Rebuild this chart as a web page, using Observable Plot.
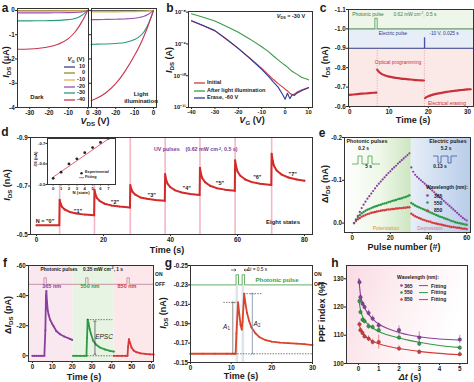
<!DOCTYPE html>
<html><head><meta charset="utf-8">
<script src="https://cdn.jsdelivr.net/npm/d3@7"></script>
<script src="https://cdn.jsdelivr.net/npm/@observablehq/plot@0.6"></script>
<style>
body{margin:0;background:#fff;}
#root{position:relative;width:474px;height:382px;overflow:hidden;font-family:"Liberation Sans",Arial,sans-serif;background:#fff;}
.t{position:absolute;white-space:nowrap;line-height:1;}
.sb{font-size:0.68em;vertical-align:-0.3em;}
.sp{font-size:0.68em;vertical-align:0.4em;}
</style></head><body><div id="root"></div><script>
// ---------------- DATA ----------------
// (a) output curves
const aVg = ["10", "0", "-10", "-20", "-30", "-40"];
const aVdsDark = [-36,-30,-25,-20,-15,-10,-7,-5,-3,-2,-1,0];
const aVdsLight = [-33,-30,-25,-20,-15,-10,-7,-5,-3,-2,-1,0];
const aDarkP10 = [-0.003,-0.003,-0.003,-0.003,-0.003,-0.003,-0.002,-0.002,-0.001,-0.001,0,0];
const aDark0 = [-0.012,-0.012,-0.011,-0.011,-0.010,-0.009,-0.008,-0.007,-0.005,-0.003,-0.002,0];
const aDarkM10 = [-0.030,-0.030,-0.029,-0.028,-0.027,-0.025,-0.022,-0.019,-0.014,-0.010,-0.005,0];
const aDarkM20 = [-0.10,-0.10,-0.10,-0.099,-0.097,-0.092,-0.085,-0.077,-0.06,-0.045,-0.024,0];
const aDarkM30 = [-0.43,-0.43,-0.425,-0.42,-0.41,-0.38,-0.34,-0.29,-0.2,-0.14,-0.07,0];
const aDarkM40 = [-1.60,-1.59,-1.56,-1.50,-1.38,-1.16,-0.93,-0.72,-0.46,-0.32,-0.16,0];
const aLightP10 = [-0.008,-0.008,-0.008,-0.007,-0.007,-0.006,-0.005,-0.004,-0.003,-0.002,-0.001,0];
const aLight0 = [-0.025,-0.025,-0.024,-0.023,-0.022,-0.020,-0.017,-0.014,-0.010,-0.007,-0.004,0];
const aLightM10 = [-0.06,-0.06,-0.059,-0.058,-0.056,-0.052,-0.046,-0.04,-0.029,-0.02,-0.01,0];
const aLightM20 = [-0.38,-0.38,-0.37,-0.36,-0.35,-0.32,-0.28,-0.24,-0.17,-0.12,-0.06,0];
const aLightM30 = [-1.40,-1.39,-1.38,-1.36,-1.32,-1.20,-1.05,-0.88,-0.60,-0.42,-0.22,0];
const aLightM40 = [-3.72,-3.62,-3.38,-3.02,-2.50,-1.85,-1.40,-1.05,-0.66,-0.45,-0.23,0];
// (b) transfer curves, log10(I_DS / A)
const bVg = [-40,-35,-30,-25,-20,-15,-10,-7,-5,-3,-1,0,1,2,3,4,5,7,10];
const bInitial = [-8.28,-8.43,-8.59,-8.86,-9.15,-9.45,-9.77,-9.98,-10.12,-10.25,-10.36,-10.42,-10.48,-10.55,-10.6,-10.58,-10.52,-10.45,-10.37];
const bLight = [-8.05,-8.16,-8.28,-8.45,-8.63,-8.85,-9.09,-9.25,-9.38,-9.5,-9.62,-9.67,-9.73,-9.8,-9.86,-9.91,-9.95,-10.05,-10.13];
const bErase = [-8.27,-8.42,-8.58,-8.85,-9.14,-9.46,-9.8,-10.03,-10.2,-10.36,-10.6,-10.74,-10.55,-10.72,-10.6,-10.62,-10.55,-10.47,-10.38];
// (c) programming / erasing
const cT1 = [0,1,2,3,4,5,6,6.8];
const cV1 = [-0.660,-0.662,-0.664,-0.666,-0.667,-0.669,-0.671,-0.672];
const cT2 = [7.0,7.3,7.7,8.2,9,10,11,12,13,14,15,16,17,18,18.9];
const cV2 = [-0.790,-0.782,-0.774,-0.767,-0.760,-0.754,-0.750,-0.747,-0.744,-0.742,-0.740,-0.738,-0.736,-0.735,-0.734];
const cT3 = [19.2,19.5,20,21,22,23,24,25,26,27,28,29,30,30.8];
const cV3 = [-0.643,-0.648,-0.653,-0.660,-0.665,-0.669,-0.673,-0.676,-0.679,-0.682,-0.684,-0.686,-0.688,-0.689];
const cGreenT = [-0.3,6.4,6.4,7.0,7.0,31.5];
const cGreenV = [-1.0,-1.0,-1.055,-1.055,-1.0,-1.0];
const cBlueT = [-0.3,19,19,19.1,19.1,31.5];
const cBlueV = [-0.9,-0.9,-0.955,-0.955,-0.9,-0.9];
const cBandTop = [-1.1,-1.0,-0.9];
const cBandBottom = [-1.0,-0.9,-0.6];
const cEvents = [7, 19];
// (d) eight states
const dT0 = [0,6.8], dV0 = [-0.538,-0.538];
const dT1 = [6.9,7.2,7.6,8.4,9.9,11.9,14.4,17.2], dV1 = [-0.643,-0.627,-0.614,-0.603,-0.593,-0.587,-0.582,-0.579];
const dT2 = [17.3,17.6,18,18.8,20.3,22.3,24.8,27.9], dV2 = [-0.684,-0.666,-0.651,-0.639,-0.627,-0.620,-0.615,-0.611];
const dT3 = [28,28.3,28.7,29.5,31,33,35.5,38.3], dV3 = [-0.704,-0.688,-0.675,-0.664,-0.653,-0.647,-0.642,-0.639];
const dT4 = [38.4,38.7,39.1,39.9,41.4,43.4,45.9,48.7], dV4 = [-0.749,-0.727,-0.710,-0.696,-0.682,-0.673,-0.667,-0.663];
const dT5 = [48.8,49.1,49.5,50.3,51.8,53.8,56.3,59.2], dV5 = [-0.775,-0.751,-0.732,-0.716,-0.701,-0.691,-0.685,-0.680];
const dT6 = [59.3,59.6,60,60.8,62.3,64.3,66.8,70.1], dV6 = [-0.806,-0.781,-0.760,-0.743,-0.727,-0.716,-0.709,-0.704];
const dT7 = [70.2,70.5,70.9,71.7,73.2,75.2,77.7,80], dV7 = [-0.833,-0.805,-0.783,-0.764,-0.747,-0.735,-0.727,-0.722];
const dPulses = [6.9,17.3,28.0,38.4,48.8,59.3,70.2];
const dStates = ['N = "0"','"1"','"2"','"3"','"4"','"5"','"6"','"7"'];
const dInsetN = [0,1,2,3,4,5,6,7];
const dInsetI = [-0.53,-0.56,-0.60,-0.625,-0.655,-0.68,-0.705,-0.725];
const dFitN = [0,7], dFitI = [-0.536,-0.722];
// (e) potentiation / depression
const ePulseP = d3.range(1,31), ePulseD = d3.range(31,61);
const eP365 = [0,-0.008,-0.017,-0.026,-0.035,-0.043,-0.050,-0.057,-0.063,-0.069,-0.075,-0.081,-0.087,-0.092,-0.097,-0.102,-0.107,-0.112,-0.117,-0.121,-0.126,-0.130,-0.134,-0.139,-0.143,-0.147,-0.151,-0.155,-0.159,-0.163];
const eD365 = [-0.130,-0.120,-0.113,-0.108,-0.104,-0.100,-0.096,-0.092,-0.088,-0.084,-0.080,-0.076,-0.072,-0.068,-0.064,-0.060,-0.056,-0.052,-0.048,-0.044,-0.040,-0.036,-0.032,-0.028,-0.024,-0.020,-0.016,-0.012,-0.009,-0.006];
const eP550 = [0,-0.008,-0.014,-0.019,-0.023,-0.026,-0.029,-0.031,-0.033,-0.035,-0.037,-0.039,-0.040,-0.042,-0.043,-0.045,-0.046,-0.047,-0.049,-0.050,-0.052,-0.053,-0.054,-0.056,-0.057,-0.058,-0.060,-0.061,-0.063,-0.065];
const eD550 = [-0.047,-0.044,-0.041,-0.039,-0.037,-0.035,-0.033,-0.031,-0.029,-0.027,-0.025,-0.023,-0.021,-0.019,-0.017,-0.015,-0.014,-0.012,-0.010,-0.009,-0.007,-0.005,-0.004,-0.002,-0.001,0.000,0.001,0.002,0.003,0.004];
const eP850 = [0,-0.005,-0.009,-0.012,-0.015,-0.017,-0.019,-0.021,-0.022,-0.024,-0.025,-0.026,-0.027,-0.028,-0.029,-0.030,-0.030,-0.031,-0.032,-0.032,-0.033,-0.033,-0.034,-0.034,-0.035,-0.035,-0.036,-0.036,-0.037,-0.037];
const eD850 = [-0.022,-0.019,-0.016,-0.014,-0.012,-0.010,-0.008,-0.007,-0.005,-0.004,-0.003,-0.001,0.000,0.001,0.002,0.003,0.004,0.005,0.006,0.007,0.008,0.009,0.009,0.010,0.011,0.011,0.012,0.013,0.013,0.014];
const eRegionStart = [-4, 31], eRegionEnd = [31, 62];
// (f) EPSC
const fT365 = [0,1,2,3,4,5,6,6.5,6.8,7.0,7.3,7.7,8.2,8.9,9.8,10.6,12,13.9,16,18.9,20];
const fV365 = [0,0,0,0,0,0,0,-17,-40,-43,-36,-30,-27,-24,-21.5,-19.8,-16.5,-14.3,-12.8,-11.2,-10.6];
const fT550 = [20.5,22,24,26,27.2,27.5,27.8,28.2,28.8,29.5,30.6,32,34,36.5,39,41];
const fV550 = [0,0,0,0,0,-12,-24,-22,-18,-14.5,-10,-7.5,-5.5,-4.2,-3.3,-2.8];
const fT850 = [41,43,45,47,47.9,48.2,48.6,49.2,49.9,51,52.4,54.5,57,59,61];
const fV850 = [0,0,0,0,0,-6,-11,-8.5,-5.5,-3.5,-2.4,-1.6,-1.2,-1.0,-0.9];
const fPulseT = [-2,5.8,5.8,7.0,7.0,26.8,26.8,28.0,28.0,47.6,47.6,48.8,48.8,61];
const fPulseState = [0,0,1,1,0,0,1,1,0,0,1,1,0,0];
const fOff = -47.5, fOn = -51.8;
const fRegionStart = [-2, 20.5, 41], fRegionEnd = [20.5, 41, 61];
const fEpscLevels = [-24, 0];
// (g) PPF
const gT = [0,3,6,9,11.1,11.3,11.7,12.0,12.3,12.6,12.8,13.2,13.5,13.9,14.4,15,16,17,18.5,20,22,24,26,28,30];
const gV = [-0.159,-0.159,-0.159,-0.159,-0.159,-0.180,-0.212,-0.200,-0.189,-0.184,-0.192,-0.221,-0.211,-0.201,-0.193,-0.186,-0.180,-0.176,-0.173,-0.1715,-0.1705,-0.170,-0.1695,-0.169,-0.168];
const gPulseT = [0,11.2,11.2,11.8,11.8,12.7,12.7,13.3,13.3,30];
const gPulseState = [0,0,1,1,0,0,1,1,0,0];
const gOff = -0.23, gOn = -0.2405;
const gPulseStart = [11.2,12.7], gPulseEnd = [11.8,13.3];
const gDashLevel = [-0.212,-0.221,-0.159];
const gDashFrom = [8.2,13.2,11], gDashTo = [11.7,17.7,30];
// (h) PPF index
const hDt = [0.05,0.1,0.2,0.3,0.5,0.7,1,2,3,5];
const h365 = [128.8,123.5,121.2,120.0,117.9,115.9,113.5,111.8,109.2,108.5];
const h550 = [122.1,118.2,115.5,115.0,113.2,112.9,111.8,109.2,107.0,105.6];
const h850 = [113.9,111.8,110.8,109.6,108.8,107.6,107.6,105.3,104.1,103.3];
const hErr365 = [1,1,0.8,0.8,1,1,1,1.5,2,1.5];
const hErr550 = [0.8,0.8,0.8,0.8,1,0.8,1,1,1,0.8];
const hErr850 = [0.8,0.8,0.8,0.8,1,1,2.5,1,0.8,0.8];
const hFitDt = [0.02,0.1,0.2,0.4,0.6,0.8,1,1.5,2,2.5,3,4,5];
const hFit365 = [130,124.2,121.4,118.5,116.6,115.1,114,112.2,111,110.1,109.5,108.7,108.3];
const hFit550 = [122.5,119,116.7,114.4,113.1,112.1,111.3,110,109,108.2,107.5,106.4,105.7];
const hFit850 = [114.2,112.2,110.9,109.3,108.3,107.6,107,106,105.3,104.8,104.3,103.6,103.1];

// ---------------- helpers ----------------
const FONT = '"Liberation Sans", Arial, sans-serif';
const root = document.getElementById('root');
const NS = 'http://www.w3.org/2000/svg';
const C365 = '#8a3fa0', C550 = '#2e9a48', C850 = '#d63a3a';
const aColors = ['#3c3f8f','#8f8f2a','#e0b45a','#9d4fb0','#2a9a80','#c7354e'];
const pts = (xs, ys) => xs.map((x, i) => ({x, y: ys[i]}));
const LN = (xs, ys, stroke, w = 1.1, extra = {}) => Plot.line(pts(xs, ys), {x: 'x', y: 'y', stroke, strokeWidth: w, ...extra});
const ax = (domain, ticks, fmt, extra = {}) => ({domain, ticks, tickFormat: fmt, tickSize: 2, tickPadding: 0.8, label: null, ...extra});
const f1 = d => d.toFixed(1), f2 = d => d.toFixed(2), f0 = d => String(d);
const baseStyle = (fs) => ({background: 'transparent', fontFamily: FONT, fontSize: fs, fontWeight: 'bold', overflow: 'visible', color: '#222'});

function panel(fr, opts, defs) {
  const ml = 34, mr = 24, mt = 8, mb = 14;
  const svg = Plot.plot({
    width: fr[1] - fr[0] + ml + mr, height: fr[3] - fr[2] + mt + mb,
    marginLeft: ml, marginRight: mr, marginTop: mt, marginBottom: mb,
    style: baseStyle('6.3px'),
    ...opts
  });
  if (defs) { const d = document.createElementNS(NS, 'defs'); d.innerHTML = defs; svg.prepend(d); }
  Object.assign(svg.style, {position: 'absolute', left: (fr[0] - ml) + 'px', top: (fr[2] - mt) + 'px', maxWidth: 'none'});
  root.appendChild(svg);
}
function T(html, x, y, o = {}) {
  const d = document.createElement('div');
  d.className = 't'; d.innerHTML = html;
  Object.assign(d.style, {left: x + 'px', top: y + 'px', fontSize: (o.s || 6) + 'px', fontWeight: o.w || 'bold',
    color: o.c || '#1a1a1a', fontStyle: o.i ? 'italic' : 'normal'});
  const tx = o.a === 'start' ? '0' : o.a === 'end' ? '-100%' : '-50%';
  d.style.transform = `translate(${tx},-50%)` + (o.r ? ` rotate(${o.r}deg)` : '');
  root.appendChild(d);
}
function icon(x, y, w, h, inner) {
  const s = document.createElementNS(NS, 'svg');
  s.setAttribute('width', w); s.setAttribute('height', h);
  Object.assign(s.style, {position: 'absolute', left: x + 'px', top: y + 'px', overflow: 'visible'});
  s.innerHTML = inner; root.appendChild(s);
}
const IDS = '<i>I</i><span class="sb">DS</span>';

// ---------------- (a) ----------------
const aDark = [aDarkP10, aDark0, aDarkM10, aDarkM20, aDarkM30, aDarkM40];
const aLight = [aLightP10, aLight0, aLightM10, aLightM20, aLightM30, aLightM40];
panel([17, 88, 8, 107], {
  x: ax([-36.3, 0.4], [-30, -20, -10, 0], f0),
  y: ax([-4, 0.08], [-4, -3, -2, -1, 0], f0),
  marks: [...aDark.map((s, i) => LN(aVdsDark, s, aColors[i], 1.1, {curve: 'monotone-x'})), Plot.frame({stroke: '#333'})]
});
panel([91, 156, 8, 107], {
  x: ax([-32.8, 1.6], [-30, -20, -10, 0], f0),
  y: ax([-4, 0.08], [-4, -3, -2, -1, 0], () => ''),
  marks: [...aLight.map((s, i) => LN(aVdsLight, s, aColors[i], 1.1, {curve: 'monotone-x'})), Plot.frame({stroke: '#333'})]
});
T('a', 5, 7.5, {s: 12});
T(IDS + ' (μA)', 7, 62, {s: 9, r: -90});
T('<i>V</i><span class="sb">DS</span> (V)', 95, 121.5, {s: 9});
T('Dark', 37, 97, {s: 6});
T('Light', 141, 94, {s: 6});
T('illumination', 141, 100.5, {s: 6});
T('<i>V</i><span class="sb">G</span> (V)', 76, 60, {s: 6});
aVg.forEach((g, i) => {
  const y = 66.7 + i * 6.6;
  icon(64, y - 1, 11, 2, `<line x1="0" y1="1" x2="11" y2="1" stroke="${aColors[i]}" stroke-width="1.3"/>`);
  T(g, 85, y, {s: 5.5, a: 'end'});
});

// ---------------- (b) ----------------
const sup = {'-': '⁻', '0': '⁰', '1': '¹', '8': '⁸', '9': '⁹'};
const logFmt = d => '10' + String(Math.round(Math.log10(d))).split('').map(c => sup[c]).join('');
panel([188, 312, 11, 107], {
  style: baseStyle('5.8px'),
  x: ax([-41.3, 11.7], [-40, -30, -20, -10, 0, 10], f0),
  y: ax([1e-11, 10 ** -7.98], [1e-11, 1e-10, 1e-9, 1e-8], logFmt, {type: 'log', tickPadding: 0.5}),
  marks: [
    Plot.line(pts(bVg, bLight), {x: 'x', y: d => 10 ** d.y, stroke: '#3a9a4a', strokeWidth: 1.1}),
    Plot.line(pts(bVg, bInitial), {x: 'x', y: d => 10 ** d.y, stroke: '#d03a3a', strokeWidth: 1.1}),
    Plot.line(pts(bVg, bErase), {x: 'x', y: d => 10 ** d.y, stroke: '#2e3a9a', strokeWidth: 1.1}),
    Plot.frame({stroke: '#333'})
  ]
});
T('b', 170, 7.5, {s: 12});
T(IDS + ' (A)', 169.5, 60, {s: 9, r: -90});
T('<i>V</i><span class="sb">G</span> (V)', 252, 121, {s: 9});
T('<i>V</i><span class="sb">DS</span> = -30 V', 291, 17, {s: 5.5});
[['Initial', '#d03a3a'], ['After light illumination', '#3a9a4a'], ['Erase, -60 V', '#2e3a9a']].forEach(([l, c], i) => {
  const y = 83.3 + i * 7.5;
  icon(194, y - 1, 11, 2, `<line x1="0" y1="1" x2="11" y2="1" stroke="${c}" stroke-width="1.3"/>`);
  T(l, 207, y, {s: 5.5, a: 'start'});
});

// ---------------- (c) ----------------
const cBandFill = ['#eef6e9', '#e8eef8', '#fbe9e8'];
panel([348, 473, 9, 106], {
  x: ax([-0.3, 31.5], [0, 10, 20, 30], f0),
  y: ax([-0.6, -1.1], [-1.1, -1.0, -0.9, -0.8, -0.7, -0.6], f1),
  marks: [
    Plot.rect(cBandTop.map((t, i) => ({t, b: cBandBottom[i], i})), {y1: 't', y2: 'b', fill: d => cBandFill[d.i]}),
    Plot.ruleX(cEvents, {y1: -0.9, y2: -0.6, stroke: '#e8a0a8', strokeDasharray: '1,1.5'}),
    Plot.ruleY([-1.0, -0.9], {stroke: '#777', strokeWidth: 0.6}),
    LN(cGreenT, cGreenV, '#5aa55a', 0.9),
    LN(cBlueT, cBlueV, '#3a4a9a', 0.9),
    LN(cT1, cV1, '#c9303a', 2.2),
    LN(cT2, cV2, '#c9303a', 2.2, {curve: 'monotone-x'}),
    LN(cT3, cV3, '#c9303a', 2.2, {curve: 'monotone-x'}),
    Plot.frame({stroke: '#333'})
  ]
});
T('c', 323, 7.5, {s: 12});
T(IDS + ' (nA)', 326, 62, {s: 9, r: -90});
T('Time (s)', 413, 119.5, {s: 9});
T('Photonic pulse', 368, 15, {s: 4.8, w: 'normal', c: '#3d7a4a'});
T('0.62 mW cm<span class="sp">-2</span>, 0.5 s', 415, 15, {s: 4.8, w: 'normal', c: '#3d7a4a'});
T('Electric pulse', 393, 34.3, {s: 4.8, w: 'normal', c: '#2a3a8a'});
T('-10 V, 0.025 s', 444, 34.3, {s: 4.8, w: 'normal', c: '#2a3a8a'});
T('Optical programming', 398, 61.7, {s: 5, w: 'normal', c: '#c9303a'});
T('Electrical erasing', 447, 102.7, {s: 5, w: 'normal', c: '#c9303a'});

// ---------------- (d) ----------------
const dT = [...dT0, ...dT1, ...dT2, ...dT3, ...dT4, ...dT5, ...dT6, ...dT7];
const dV = [...dV0, ...dV1, ...dV2, ...dV3, ...dV4, ...dV5, ...dV6, ...dV7];
panel([30, 312, 137, 234], {
  x: ax([-1.8, 82.4], [0, 20, 40, 60, 80], f0),
  y: ax([-0.5, -0.9], [-0.9, -0.7, -0.5], f1),
  marks: [
    Plot.ruleX(dPulses, {stroke: '#f3b8c4', strokeWidth: 1.6}),
    LN(dT, dV, '#d42a2a', 2),
    Plot.dot(pts(dT, dV), {x: 'x', y: 'y', r: 0.9, fill: '#d42a2a'}),
    Plot.frame({stroke: '#333'})
  ]
});
T('d', 5, 132, {s: 12});
T(IDS + ' (nA)', 8, 185, {s: 9, r: -90});
T('Time (s)', 167, 249.5, {s: 9});
const dLabX = [45, 78, 115, 151.7, 186.7, 220, 257.3, 292.7];
const dLabY = [221.7, 212.3, 203.3, 195.7, 189.3, 183.7, 178.3, 175];
dStates.forEach((s, i) => T(s, dLabX[i], dLabY[i], {s: 5.5}));
T('UV pulses &nbsp;&nbsp; (0.62 mW cm<span class="sp">-2</span>, 0.5 s)', 154, 150, {s: 5.3, c: '#7a3a9a', a: 'start'});
T('Eight states', 283, 222, {s: 6});
// inset
panel([47, 115, 138, 184], {
  style: baseStyle('4.3px'),
  x: ax([-0.72, 7.9], [0, 1, 2, 3, 4, 5, 6, 7], f0, {tickSize: 1.5, tickPadding: 0.6}),
  y: ax([-0.5, -0.724], [-0.7, -0.6, -0.5], f1, {tickSize: 1.5, tickPadding: 0.6}),
  marks: [
    Plot.frame({fill: 'white', stroke: '#333'}),
    LN(dFitN, dFitI, '#d9536a', 0.9),
    Plot.dot(pts(dInsetN, dInsetI), {x: 'x', y: 'y', r: 1.4, fill: '#222'}),
    Plot.frame({stroke: '#333'})
  ]
});
T(IDS + ' (nA)', 35.5, 159, {s: 4.3, r: -90});
T('N (state)', 81, 193, {s: 4.3});
icon(80, 171.5, 3, 3, '<circle cx="1.5" cy="1.2" r="1.2" fill="#222"/>');
T('Experimental', 85, 172.7, {s: 3.8, a: 'start'});
icon(79, 177, 5, 2, '<line x1="0" y1="0.7" x2="5" y2="0.7" stroke="#d9536a" stroke-width="0.9"/>');
T('Fitting', 85, 177.7, {s: 3.8, a: 'start'});

// ---------------- (e) ----------------
const eDefs = `<linearGradient id="egG" x1="0" x2="1" y1="0" y2="0"><stop offset="0" stop-color="#ffffff"/><stop offset="0.55" stop-color="#eef7e8"/><stop offset="1" stop-color="#cde6c1"/></linearGradient>
<linearGradient id="egB" x1="0" x2="1" y1="0" y2="0"><stop offset="0" stop-color="#e6eef8"/><stop offset="1" stop-color="#b9cde9"/></linearGradient>`;
const eFills = ['url(#egG)', 'url(#egB)'];
panel([344, 470, 137, 232], {
  x: ax([-4, 62], [0, 20, 40, 60], f0),
  y: ax([0.022, -0.2], [-0.2, -0.1, 0], f1, {tickPadding: 0.4}),
  marks: [
    Plot.rect(eRegionStart.map((s, i) => ({s, e: eRegionEnd[i], i})), {x1: 's', x2: 'e', fill: d => eFills[d.i]}),
    Plot.dot(pts(ePulseP, eP850).concat(pts(ePulseD, eD850)), {x: 'x', y: 'y', r: 1.2, fill: C850}),
    Plot.dot(pts(ePulseP, eP550).concat(pts(ePulseD, eD550)), {x: 'x', y: 'y', r: 1.2, fill: C550}),
    Plot.dot(pts(ePulseP, eP365).concat(pts(ePulseD, eD365)), {x: 'x', y: 'y', r: 1.1, fill: C365}),
    Plot.frame({stroke: '#333'})
  ]
}, eDefs);
T('e', 322, 133, {s: 12});
T('Δ' + IDS + ' (nA)', 325.5, 184, {s: 9, r: -90});
T('Pulse number (#)', 404, 247, {s: 9});
T('Photonic pulses', 367, 141.7, {s: 5.3});
T('Electric pulses', 448, 141.7, {s: 5.3});
T('0.2 s', 363.5, 149.3, {s: 4.8});
T('5 s', 368.5, 167.3, {s: 4.8});
icon(352, 155, 28, 10, '<path d="M0,9 H6 V1 H10 V9 H16 V1 H20 V9 H28" fill="none" stroke="#4aa34a" stroke-width="0.8"/>');
T('5.2 s', 446, 149.3, {s: 4.8});
T('0.13 s', 440, 167.3, {s: 4.8});
icon(433, 155, 24, 9, '<path d="M0,1 H5 V8 H8 V1 H15 V8 H18 V1 H24" fill="none" stroke="#3a5a9a" stroke-width="0.8"/>');
T('Wavelength (nm):', 447, 186.7, {s: 5});
[['365', C365], ['550', C550], ['850', C850]].forEach(([l, c], i) => {
  const y = 195.7 + i * 7.2;
  icon(425.8, y - 1.5, 3, 3, `<circle cx="1.5" cy="1.5" r="1.3" fill="${c}"/>`);
  T(l, 434, y, {s: 5, a: 'start'});
});
T('Potentiation', 386, 228, {s: 5, w: 'normal', c: '#d8962e'});
T('Depression', 430, 228, {s: 5, w: 'normal', c: '#d07f72'});

// ---------------- (f) ----------------
const fFills = ['#f9e8f0', '#e7f4e3', '#fce8ea'];
panel([28, 153, 265, 361], {
  x: ax([-2, 61], [0, 10, 20, 30, 40, 50, 60], f0),
  y: ax([3.8, -60], [-60, -40, -20, 0], f0),
  marks: [
    Plot.rect(fRegionStart.map((s, i) => ({s, e: fRegionEnd[i], i})), {x1: 's', x2: 'e', fill: d => fFills[d.i]}),
    LN(fPulseT, fPulseState.map(s => s ? fOn : fOff), '#c48a9c', 0.9),
    LN(fT365, fV365, C365, 1.8),
    Plot.dot(pts(fT365, fV365), {x: 'x', y: 'y', r: 1, fill: C365}),
    LN(fT550, fV550, C550, 1.8),
    Plot.dot(pts(fT550, fV550), {x: 'x', y: 'y', r: 1, fill: C550}),
    LN(fT850, fV850, C850, 1.8),
    Plot.dot(pts(fT850, fV850), {x: 'x', y: 'y', r: 1, fill: C850}),
    Plot.ruleY(fEpscLevels, {x1: 27.8, x2: 40.5, stroke: '#222', strokeWidth: 0.6, strokeDasharray: '1.5,1.2'}),
    Plot.link([{x: 31.5, a: fEpscLevels[1] - 1, b: fEpscLevels[0] + 1}], {x1: 'x', x2: 'x', y1: 'a', y2: 'b', stroke: '#222', strokeWidth: 0.6, markerStart: 'arrow', markerEnd: 'arrow'}),
    Plot.frame({stroke: '#333'})
  ]
});
T('f', 5, 263, {s: 12});
T('Δ' + IDS + ' (pA)', 9, 315, {s: 9, r: -90});
T('Time (s)', 84, 376.5, {s: 9});
T('Photonic pulses', 59, 270, {s: 4.8});
T('0.35 mW cm<span class="sp">-2</span>, 1 s', 103, 270, {s: 4.8});
T('365 nm', 51.7, 287, {s: 5.5, c: C365});
T('550 nm', 90, 287, {s: 5.5, c: C550});
T('850 nm', 127, 287, {s: 5.5, c: C850});
T('EPSC', 104, 337.3, {s: 6.5, w: 'normal', i: true});
T('ON', 155, 274, {s: 5, a: 'start'});
T('OFF', 155, 284.3, {s: 5, a: 'start'});

// ---------------- (g) ----------------
panel([190, 312, 265, 362], {
  x: ax([0, 30], [0, 10, 20, 30], f0),
  y: ax([-0.15, -0.25], [-0.25, -0.23, -0.21, -0.19, -0.17, -0.15], f2, {tickPadding: 0.5}),
  marks: [
    Plot.rect(gPulseStart.map((s, i) => ({s, e: gPulseEnd[i]})), {x1: 's', x2: 'e', y1: -0.15, y2: gOff, fill: '#dde4ec'}),
    LN(gPulseT, gPulseState.map(s => s ? gOn : gOff), '#53a653', 0.9),
    Plot.ruleY(gDashLevel.map((v, i) => ({v, a: gDashFrom[i], b: gDashTo[i]})), {y: 'v', x1: 'a', x2: 'b', stroke: '#222', strokeWidth: 0.6, strokeDasharray: '1.5,1.2'}),
    LN(gT, gV, '#d9452b', 1.8),
    Plot.dot(pts(gT, gV), {x: 'x', y: 'y', r: 0.9, fill: '#d9452b'}),
    Plot.link([{x: 10.4, a: gDashLevel[2], b: gDashLevel[0]}], {x1: 'x', x2: 'x', y1: 'a', y2: 'b', stroke: '#444', strokeWidth: 0.6, markerStart: 'arrow', markerEnd: 'arrow'}),
    Plot.link([{x: 15.2, a: gDashLevel[2], b: gDashLevel[1]}], {x1: 'x', x2: 'x', y1: 'a', y2: 'b', stroke: '#7a8aa8', strokeWidth: 0.8, markerStart: 'arrow', markerEnd: 'arrow'}),
    Plot.frame({stroke: '#333'})
  ]
});
T('g', 168.5, 262.5, {s: 12});
T(IDS + ' (nA)', 164, 313, {s: 9, r: -90});
T('Time (s)', 241, 376, {s: 9});
T('<i>Δt</i> = 0.5 s', 257, 270, {s: 4.8, w: 'normal'});
icon(231, 268, 18, 4, '<path d="M0,2 H5 M3.5,0.8 L5,2 L3.5,3.2 M18,2 H13 M14.5,0.8 L13,2 L14.5,3.2" fill="none" stroke="#222" stroke-width="0.6"/>');
T('Photonic pulse', 277, 280, {s: 6, c: '#3d9a3d'});
T('<i>A</i><span class="sb">1</span>', 226.5, 328, {s: 6.5, w: 'normal'});
T('<i>A</i><span class="sb">2</span>', 257, 325, {s: 6.5, w: 'normal'});
T('ON', 314, 274, {s: 5, a: 'start'});
T('OFF', 314, 284.3, {s: 5, a: 'start'});

// ---------------- (h) ----------------
const hDefs = `<linearGradient id="hgP" x1="0" x2="1" y1="0" y2="0.3"><stop offset="0" stop-color="#f9dbe4"/><stop offset="0.55" stop-color="#fdf1f4"/><stop offset="1" stop-color="#ffffff"/></linearGradient>`;
const hSeries = [[h365, hErr365, hFit365, C365], [h550, hErr550, hFit550, C550], [h850, hErr850, hFit850, C850]];
panel([346, 467, 265, 363], {
  x: ax([-0.59, 5.38], [0, 1, 2, 3, 4, 5], f0),
  y: ax([100, 134.7], [100, 110, 120, 130], f0),
  marks: [
    Plot.frame({fill: 'url(#hgP)'}),
    ...hSeries.flatMap(([v, e, fit, c]) => [
      LN(hFitDt, fit, c, 1.1, {curve: 'monotone-x'}),
      Plot.ruleX(hDt.map((t, i) => ({t, lo: v[i] - e[i], hi: v[i] + e[i]})), {x: 't', y1: 'lo', y2: 'hi', stroke: c, strokeWidth: 0.6}),
      Plot.dot(pts(hDt, v), {x: 'x', y: 'y', r: 1.8, fill: c, stroke: '#333', strokeWidth: 0.3})
    ]),
    Plot.frame({stroke: '#333'})
  ]
}, hDefs);
T('h', 335, 263, {s: 12});
T('PPF index (%)', 322, 312, {s: 9, r: -90});
T('<i>Δt</i> (s)', 410, 376.5, {s: 9});
T('Wavelength (nm):', 418, 277, {s: 5});
[['365', C365], ['550', C550], ['850', C850]].forEach(([l, c], i) => {
  const y = 285.7 + i * 6.7;
  icon(400.2, y - 1.5, 3, 3, `<circle cx="1.5" cy="1.5" r="1.3" fill="${c}"/>`);
  T(l, 408.3, y, {s: 5});
  icon(419, y - 0.6, 9, 2, `<line x1="0" y1="0.6" x2="9" y2="0.6" stroke="${c}" stroke-width="1"/>`);
  T('Fitting', 431, y, {s: 5, a: 'start'});
});
</script></body></html>
